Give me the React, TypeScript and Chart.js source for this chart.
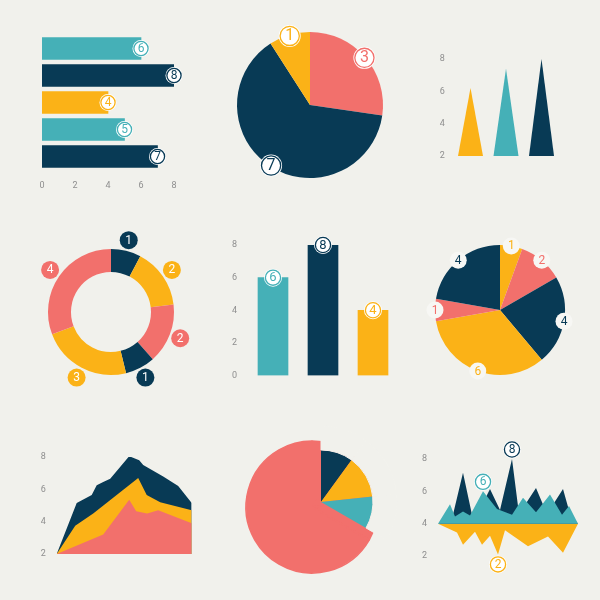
import React, { useEffect, useRef } from 'react';
import { Chart, registerables } from 'chart.js';
Chart.register(...registerables);
Chart.defaults.font.family = 'Roboto';

const BG = '#f1f1ec';
const TEAL = '#45b0b7';
const NAVY = '#083a55';
const YELLOW = '#fbb217';
const CORAL = '#f2706c';
const TICK = '#8e8e8e';

// 1. horizontal bars
const hbarCategories = ['A', 'B', 'C', 'D', 'E'];
const hbarValues = [6, 8, 4, 5, 7];
const hbarColors = [TEAL, NAVY, YELLOW, TEAL, NAVY];

// 2. pie
const pie1Values = [3, 7, 1];
const pie1Colors = [CORAL, NAVY, YELLOW];

// 3. triangles
const triCategories = ['A', 'B', 'C'];
const triValues = [6.2, 7.4, 8];
const triColors = [YELLOW, TEAL, NAVY];

// 4. ring
const ringValues = [1, 2, 2, 1, 3, 4];
const ringColors = [NAVY, YELLOW, CORAL, NAVY, YELLOW, CORAL];

// 5. vertical bars
const vbarCategories = ['A', 'B', 'C'];
const vbarValues = [6, 8, 4];
const vbarColors = [TEAL, NAVY, YELLOW];

// 6. pie with notched labels
const pie2Values = [1, 2, 4, 6, 1, 4];
const pie2Colors = [YELLOW, CORAL, NAVY, YELLOW, CORAL, NAVY];

// 7. mountain areas
const mNavyX = [0, 4, 7, 8, 9.3, 10.7, 14.5, 16.5, 17.3, 21.3, 24.3, 27];
const mNavyY = [2, 5.15, 5.65, 6.25, 6.45, 6.65, 8.05, 7.8, 7.5, 6.8, 6.2, 5.15];
const mYellowX = [0, 3.7, 7.3, 16.3, 18, 20.7, 27];
const mYellowY = [2, 3.75, 4.5, 6.7, 5.65, 5.2, 4.7];
const mCoralX = [0, 9.3, 14.5, 15.9, 18.1, 20.3, 27];
const mCoralY = [2, 3.2, 5.35, 4.65, 4.5, 4.7, 3.9];

// 8. exploded pie
const pie3Values = [3, 4, 3, 20];
const pie3Colors = [NAVY, YELLOW, TEAL, CORAL];

// 9. mirrored spikes
const sTealX = [0, 2.4, 3.4, 5, 6.4, 9, 11.8, 14.8, 17, 19.6, 22.4, 24.8, 26.2, 28];
const sTealY = [4, 5.2, 4.45, 4.75, 4.5, 6.0, 4.9, 4.55, 5.6, 4.7, 5.8, 4.55, 5.1, 4];
const sNavyX = [0, 2.8, 5, 6.8, 8.4, 10.4, 12.4, 14.8, 16.2, 19.6, 21.8, 25, 26.4, 28];
const sNavyY = [4, 4.3, 7.15, 4.55, 4.9, 6.15, 4.85, 8.0, 4.6, 6.2, 4.6, 6.15, 4.6, 4];
const sYellowX = [0, 3.8, 5, 7.4, 8.8, 10.4, 12, 13.4, 18, 22, 25, 28];
const sYellowY = [4, 3.45, 2.7, 3.5, 2.7, 3.25, 2.1, 3.6, 2.6, 3.2, 2.2, 4];

const yTicks = [2, 4, 6, 8];

const pts = (xs: number[], ys: number[]) => xs.map((x, i) => ({ x, y: ys[i] }));

function badge(ctx: CanvasRenderingContext2D, x: number, y: number, r: number, text: string, color: string, kind: string, size: number) {
  ctx.save();
  ctx.beginPath();
  ctx.arc(x, y, r, 0, Math.PI * 2);
  if (kind === 'outline') {
    ctx.fillStyle = '#ffffff';
    ctx.fill();
    ctx.beginPath();
    ctx.arc(x, y, r - 1.4, 0, Math.PI * 2);
    ctx.lineWidth = 1.3;
    ctx.strokeStyle = color;
    ctx.stroke();
    ctx.fillStyle = color;
  } else if (kind === 'filled') {
    ctx.fillStyle = color;
    ctx.fill();
    ctx.fillStyle = '#ffffff';
  } else {
    ctx.fillStyle = '#f7f7f4';
    ctx.fill();
    ctx.fillStyle = color;
  }
  ctx.font = `${size}px Roboto`;
  ctx.textAlign = 'center';
  ctx.textBaseline = 'middle';
  ctx.fillText(text, x, y + 0.5);
  ctx.restore();
}

const common = (extra: any) => ({
  responsive: false,
  animation: false,
  devicePixelRatio: 1,
  events: [],
  ...extra,
  plugins: { legend: { display: false }, tooltip: { enabled: false } },
});

const yAxis = (min: number, max: number, width: number, padding: number) => ({
  min,
  max,
  afterBuildTicks: (s: any) => {
    s.ticks = (min === 0 ? [0, ...yTicks] : yTicks).map((v) => ({ value: v }));
  },
  ticks: { color: TICK, font: { size: 9 }, padding },
  grid: { display: false, drawTicks: false },
  border: { display: false },
  afterFit: (s: any) => {
    s.width = width;
  },
});

const barBadges = (r: number, size: number) => ({
  id: 'barBadges',
  afterDatasetsDraw(chart: any) {
    const ds = chart.data.datasets[0];
    chart.getDatasetMeta(0).data.forEach((el: any, i: number) => {
      badge(chart.ctx, el.x, el.y, r, String(ds.data[i]), ds.backgroundColor[i], 'outline', size);
    });
  },
});

const arcBadges = (kind: string, r: number, size: number, extra: number) => ({
  id: 'arcBadges',
  afterDatasetsDraw(chart: any) {
    const ds = chart.data.datasets[0];
    chart.getDatasetMeta(0).data.forEach((el: any, i: number) => {
      const mid = (el.startAngle + el.endAngle) / 2;
      const R = el.outerRadius + extra;
      badge(chart.ctx, el.x + Math.cos(mid) * R, el.y + Math.sin(mid) * R, r, String(ds.data[i]), ds.backgroundColor[i], kind, size);
    });
  },
});

const triangles = {
  id: 'triangles',
  afterDatasetsDraw(chart: any) {
    const ctx = chart.ctx;
    const base = chart.scales.y.getPixelForValue(chart.scales.y.min);
    chart.getDatasetMeta(0).data.forEach((el: any, i: number) => {
      ctx.save();
      ctx.beginPath();
      ctx.moveTo(el.x - el.width / 2, base);
      ctx.lineTo(el.x, el.y);
      ctx.lineTo(el.x + el.width / 2, base);
      ctx.closePath();
      ctx.fillStyle = triColors[i];
      ctx.fill();
      ctx.restore();
    });
  },
};

const spikeBadges = {
  id: 'spikeBadges',
  afterDatasetsDraw(chart: any) {
    const defs = [
      { ds: 0, ys: sTealY, color: TEAL, up: true },
      { ds: 1, ys: sNavyY, color: NAVY, up: true },
      { ds: 2, ys: sYellowY, color: YELLOW, up: false },
    ];
    defs.forEach((d) => {
      const target = d.up ? Math.max(...d.ys) : Math.min(...d.ys);
      const idx = d.ys.indexOf(target);
      const el = chart.getDatasetMeta(d.ds).data[idx];
      const r = 9;
      badge(chart.ctx, el.x, el.y + (d.up ? -(r + 0.5) : r + 1), r, String(Math.round(target)), d.color, 'outline', 12);
    });
  },
};

const area = (data: any, color: string, fillValue: number) => ({
  data,
  backgroundColor: color,
  borderWidth: 0,
  pointRadius: 0,
  tension: 0,
  fill: { value: fillValue },
  clip: false,
});

const configs: { left: number; top: number; make: () => any }[] = [
  {
    left: 0,
    top: 0,
    make: () => ({
      type: 'bar',
      data: {
        labels: hbarCategories,
        datasets: [{ data: hbarValues, backgroundColor: hbarColors, barThickness: 22, borderWidth: 0 }],
      },
      options: common({
        indexAxis: 'y',
        layout: { padding: { left: 42, right: 26, top: 35, bottom: 10 } },
        scales: {
          x: {
            min: 0,
            max: 8,
            ticks: { stepSize: 2, color: TICK, font: { size: 9 }, padding: 10 },
            grid: { display: false, drawTicks: false },
            border: { display: false },
            afterFit: (s: any) => {
              s.height = 20;
            },
          },
          y: { display: false },
        },
      }),
      plugins: [barBadges(8.5, 12)],
    }),
  },
  {
    left: 200,
    top: 0,
    make: () => ({
      type: 'pie',
      data: { datasets: [{ data: pie1Values, backgroundColor: pie1Colors, borderWidth: 0 }] },
      options: common({ radius: 73, layout: { padding: { left: 20, top: 10, right: 0, bottom: 0 } } }),
      plugins: [arcBadges('outline', 11, 16, -1)],
    }),
  },
  {
    left: 400,
    top: 0,
    make: () => ({
      type: 'bar',
      data: {
        labels: triCategories,
        datasets: [{ data: triValues, backgroundColor: 'rgba(0,0,0,0)', barThickness: 25, borderWidth: 0 }],
      },
      options: common({
        layout: { padding: { left: 32.75, right: 40.75, top: 59, bottom: 44 } },
        scales: { x: { display: false }, y: yAxis(2, 8, 20, 8) },
      }),
      plugins: [triangles],
    }),
  },
  {
    left: 0,
    top: 200,
    make: () => ({
      type: 'doughnut',
      data: { datasets: [{ data: ringValues, backgroundColor: ringColors, borderWidth: 0 }] },
      options: common({ radius: 63, cutout: '63.5%', layout: { padding: { left: 22, top: 24, right: 0, bottom: 0 } } }),
      plugins: [arcBadges('filled', 9, 12, 11)],
    }),
  },
  {
    left: 200,
    top: 200,
    make: () => ({
      type: 'bar',
      data: {
        labels: vbarCategories,
        datasets: [{ data: vbarValues, backgroundColor: vbarColors, barThickness: 30, borderWidth: 0 }],
      },
      options: common({
        layout: { padding: { left: 20, right: 2, top: 45, bottom: 24.5 } },
        scales: { x: { display: false }, y: yAxis(0, 8, 28, 11) },
      }),
      plugins: [barBadges(9, 13)],
    }),
  },
  {
    left: 400,
    top: 200,
    make: () => ({
      type: 'pie',
      data: { datasets: [{ data: pie2Values, backgroundColor: pie2Colors, borderWidth: 0 }] },
      options: common({ radius: 65, layout: { padding: { left: 0, top: 20, right: 0, bottom: 0 } } }),
      plugins: [arcBadges('notch', 8.5, 12, 0)],
    }),
  },
  {
    left: 0,
    top: 400,
    make: () => ({
      type: 'line',
      data: {
        datasets: [
          area(pts(mCoralX, mCoralY), CORAL, 2),
          area(pts(mYellowX, mYellowY), YELLOW, 2),
          area(pts(mNavyX, mNavyY), NAVY, 2),
        ],
      },
      options: common({
        layout: { padding: { left: 32.7, right: 8.3, top: 57, bottom: 46 } },
        scales: { x: { type: 'linear', min: 0, max: 27, display: false }, y: yAxis(2, 8, 24, 11) },
      }),
    }),
  },
  {
    left: 200,
    top: 400,
    make: () => ({
      type: 'pie',
      data: {
        datasets: [
          {
            data: pie3Values,
            backgroundColor: pie3Values.map(() => CORAL),
            borderColor: CORAL,
            borderWidth: 1.5,
          },
        ],
      },
      options: common({ radius: 66, layout: { padding: { left: 24, top: 14, right: 0, bottom: 0 } } }),
    }),
  },
  {
    left: 200,
    top: 400,
    make: () => ({
      type: 'doughnut',
      data: {
        datasets: [
          {
            data: pie3Values,
            backgroundColor: pie3Colors.map((c) => (c === CORAL ? 'rgba(0,0,0,0)' : BG)),
            borderColor: pie3Colors.map((c) => (c === CORAL ? 'rgba(0,0,0,0)' : BG)),
            borderWidth: 1,
            weight: 24,
          },
          {
            data: pie3Values,
            backgroundColor: pie3Colors.map((c) => (c === CORAL ? 'rgba(0,0,0,0)' : c)),
            borderWidth: 0,
            weight: 52,
          },
        ],
      },
      options: common({ radius: 76, cutout: 0, layout: { padding: { left: 42, top: 4, right: 0, bottom: 0 } } }),
    }),
  },
  {
    left: 400,
    top: 400,
    make: () => ({
      type: 'line',
      data: {
        datasets: [
          area(pts(sTealX, sTealY), TEAL, 4),
          area(pts(sNavyX, sNavyY), NAVY, 4),
          area(pts(sYellowX, sYellowY), YELLOW, 4),
        ],
      },
      options: common({
        layout: { padding: { left: 14, right: 22, top: 59, bottom: 44 } },
        scales: { x: { type: 'linear', min: 0, max: 28, display: false }, y: yAxis(2, 8, 24, 11) },
      }),
      plugins: [spikeBadges],
    }),
  },
];

function MiniChart({ left, top, make }: { left: number; top: number; make: () => any }) {
  const ref = useRef<HTMLCanvasElement>(null);
  useEffect(() => {
    const chart = new Chart(ref.current as HTMLCanvasElement, make());
    return () => chart.destroy();
  }, []);
  return (
    <canvas
      ref={ref}
      width={200}
      height={200}
      style={{ position: 'absolute', left, top, width: 200, height: 200 }}
    />
  );
}

export default function App() {
  return (
    <div style={{ position: 'fixed', left: 0, top: 0, width: 600, height: 600, background: BG, overflow: 'hidden' }}>
      {configs.map((c, i) => (
        <MiniChart key={i} left={c.left} top={c.top} make={c.make} />
      ))}
    </div>
  );
}
